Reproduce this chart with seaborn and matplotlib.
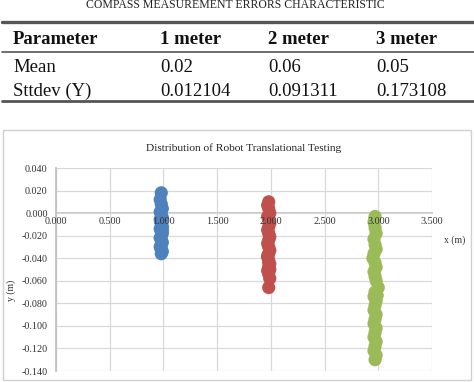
import matplotlib
matplotlib.use("Agg")
import matplotlib.pyplot as plt
from matplotlib.lines import Line2D
from matplotlib.patches import Rectangle
import seaborn as sns
import pandas as pd

# ---- table data ----
table_caption = "COMPASS MEASUREMENT ERRORS CHARACTERISTIC"
table_header = ["Parameter", "1 meter", "2 meter", "3 meter"]
row_mean = ["Mean", "0.02", "0.06", "0.05"]
row_std = ["Sttdev (Y)", "0.012104", "0.091311", "0.173108"]

# ---- chart data ----
chart_title = "Distribution of Robot Translational Testing"
x_1m = [0.98, 0.97, 0.98, 0.99, 0.97, 0.98, 0.99, 0.97, 0.98, 0.98, 0.99, 0.97, 0.98,
        0.99, 0.98, 0.97, 0.98, 0.99, 0.98, 0.97, 0.98, 0.99, 0.98, 0.98, 0.99]
y_1m = [0.018, 0.012, 0.008, 0.004, 0.001, -0.002, -0.004, -0.006, -0.008, -0.010,
        -0.012, -0.014, -0.016, -0.018, -0.020, -0.022, -0.024, -0.026, -0.028, -0.030,
        -0.032, -0.034, -0.036, 0.002, -0.015]
x_2m = [1.98, 1.97, 1.98, 1.99, 1.97, 1.98, 1.99, 1.98, 1.97, 1.98, 1.99, 1.98, 1.97,
        1.98, 1.99, 1.98, 1.97, 1.98, 1.99, 1.98, 1.97, 1.98, 1.99, 1.98, 1.97, 1.98, 1.99]
y_2m = [0.010, 0.007, 0.004, 0.000, -0.003, -0.006, -0.009, -0.012, -0.015, -0.018,
        -0.021, -0.024, -0.027, -0.030, -0.033, -0.036, -0.039, -0.042, -0.045, -0.048,
        -0.051, -0.054, -0.058, -0.066, -0.038, -0.044, -0.050]
x_3m = [2.97, 2.96, 2.97, 2.98, 2.96, 2.97, 2.98, 2.96, 2.95, 2.97, 2.98, 2.96, 2.97,
        2.98, 3.00, 2.97, 2.96, 2.98, 2.97, 2.96, 2.98, 2.97, 2.96, 2.98, 2.97, 2.96,
        2.98, 2.97, 2.96, 2.98, 2.97, 2.99]
y_3m = [-0.003, -0.008, -0.013, -0.018, -0.023, -0.028, -0.032, -0.036, -0.040, -0.044,
        -0.048, -0.052, -0.056, -0.060, -0.066, -0.070, -0.074, -0.078, -0.082, -0.086,
        -0.090, -0.094, -0.098, -0.102, -0.106, -0.110, -0.114, -0.118, -0.122, -0.126,
        -0.130, -0.073]
series_names = ["1 meter", "2 meter", "3 meter"]
series_colors = ["#4F81BD", "#C0504D", "#9BBB59"]
x_ticks = [0.0, 0.5, 1.0, 1.5, 2.0, 2.5, 3.0, 3.5]
y_ticks = [0.04, 0.02, 0.0, -0.02, -0.04, -0.06, -0.08, -0.10, -0.12, -0.14]

df = pd.concat([
    pd.DataFrame({"x": x_1m, "y": y_1m, "dist": series_names[0]}),
    pd.DataFrame({"x": x_2m, "y": y_2m, "dist": series_names[1]}),
    pd.DataFrame({"x": x_3m, "y": y_3m, "dist": series_names[2]}),
])

sns.set_theme(style="white")
plt.rcParams["font.family"] = ["Liberation Serif", "DejaVu Serif"]

W, H = 474, 382
fig = plt.figure(figsize=(W / 100, H / 100), dpi=100)
fig.patch.set_facecolor("white")

def fx(px):
    return px / W

def fy(py):
    return 1 - py / H

# ---- table ----
fig.text(fx(235), fy(5), table_caption, ha="center", va="center", fontsize=8.5, color="#222222")
fig.add_artist(Line2D([fx(2), fx(474)], [fy(22), fy(22)], color="#555555", lw=2.4))
fig.add_artist(Line2D([fx(2), fx(474)], [fy(52), fy(52)], color="#555555", lw=1.2))
fig.add_artist(Line2D([fx(2), fx(474)], [fy(101), fy(101)], color="#555555", lw=2.0))
col_x = [13, 160, 268, 376]
for cx, t in zip(col_x, table_header):
    fig.text(fx(cx), fy(44), t, ha="left", va="baseline", fontsize=13.5, fontweight="bold", color="#111111")
for cx, t in zip(col_x, row_mean):
    fig.text(fx(cx), fy(72.5), t, ha="left", va="baseline", fontsize=13.5, color="#111111")
for cx, t in zip(col_x, row_std):
    fig.text(fx(cx), fy(96), t, ha="left", va="baseline", fontsize=13.5, color="#111111")

# ---- chart frame ----
fig.add_artist(Rectangle((fx(3), fy(380)), fx(468), 250 / H, transform=fig.transFigure,
                         fill=False, edgecolor="#d0d0d0", lw=1.0))

ax = fig.add_axes([fx(56), fy(371), fx(376), 203 / H])
# vertical gridlines drawn below the points
for xv in x_ticks:
    ax.axvline(xv, color="#d9d9d9", lw=0.9, zorder=0)
sns.scatterplot(data=df, x="x", y="y", hue="dist", palette=series_colors, s=90,
                edgecolor="none", linewidth=0, legend=False, ax=ax, zorder=3)
for s in ["top", "right"]:
    ax.spines[s].set_visible(False)
ax.spines["left"].set_color("#bfbfbf")
ax.spines["bottom"].set_position(("data", 0))
ax.spines["bottom"].set_color("#bfbfbf")
ax.set_xlim(0, 3.5)
ax.set_ylim(-0.14, 0.04)
ax.set_xticks(x_ticks)
ax.set_yticks(y_ticks)
ax.set_xticklabels([f"{v:.3f}" for v in x_ticks])
ax.set_yticklabels([f"{v:.3f}" for v in y_ticks])
ax.tick_params(axis="both", length=0, labelsize=7.3, labelcolor="#333333")
ax.tick_params(axis="x", pad=3)
ax.tick_params(axis="y", pad=6)
ax.yaxis.grid(True, color="#d9d9d9", lw=0.9)
ax.xaxis.grid(False)
ax.yaxis.set_zorder(0.5)
ax.xaxis.set_zorder(5)
ax.spines["bottom"].set_zorder(0.5)
ax.set_xlabel("")
ax.set_ylabel("")
ax.set_title(chart_title, fontsize=8.2, color="#222222", pad=12)
fig.text(fx(455), fy(240), "x (m)", ha="center", va="center", fontsize=7, color="#333333")
fig.text(fx(11), fy(290), "y (m)", ha="center", va="center", rotation=90, fontsize=7, color="#333333")

fig.savefig("out.png", dpi=100)
